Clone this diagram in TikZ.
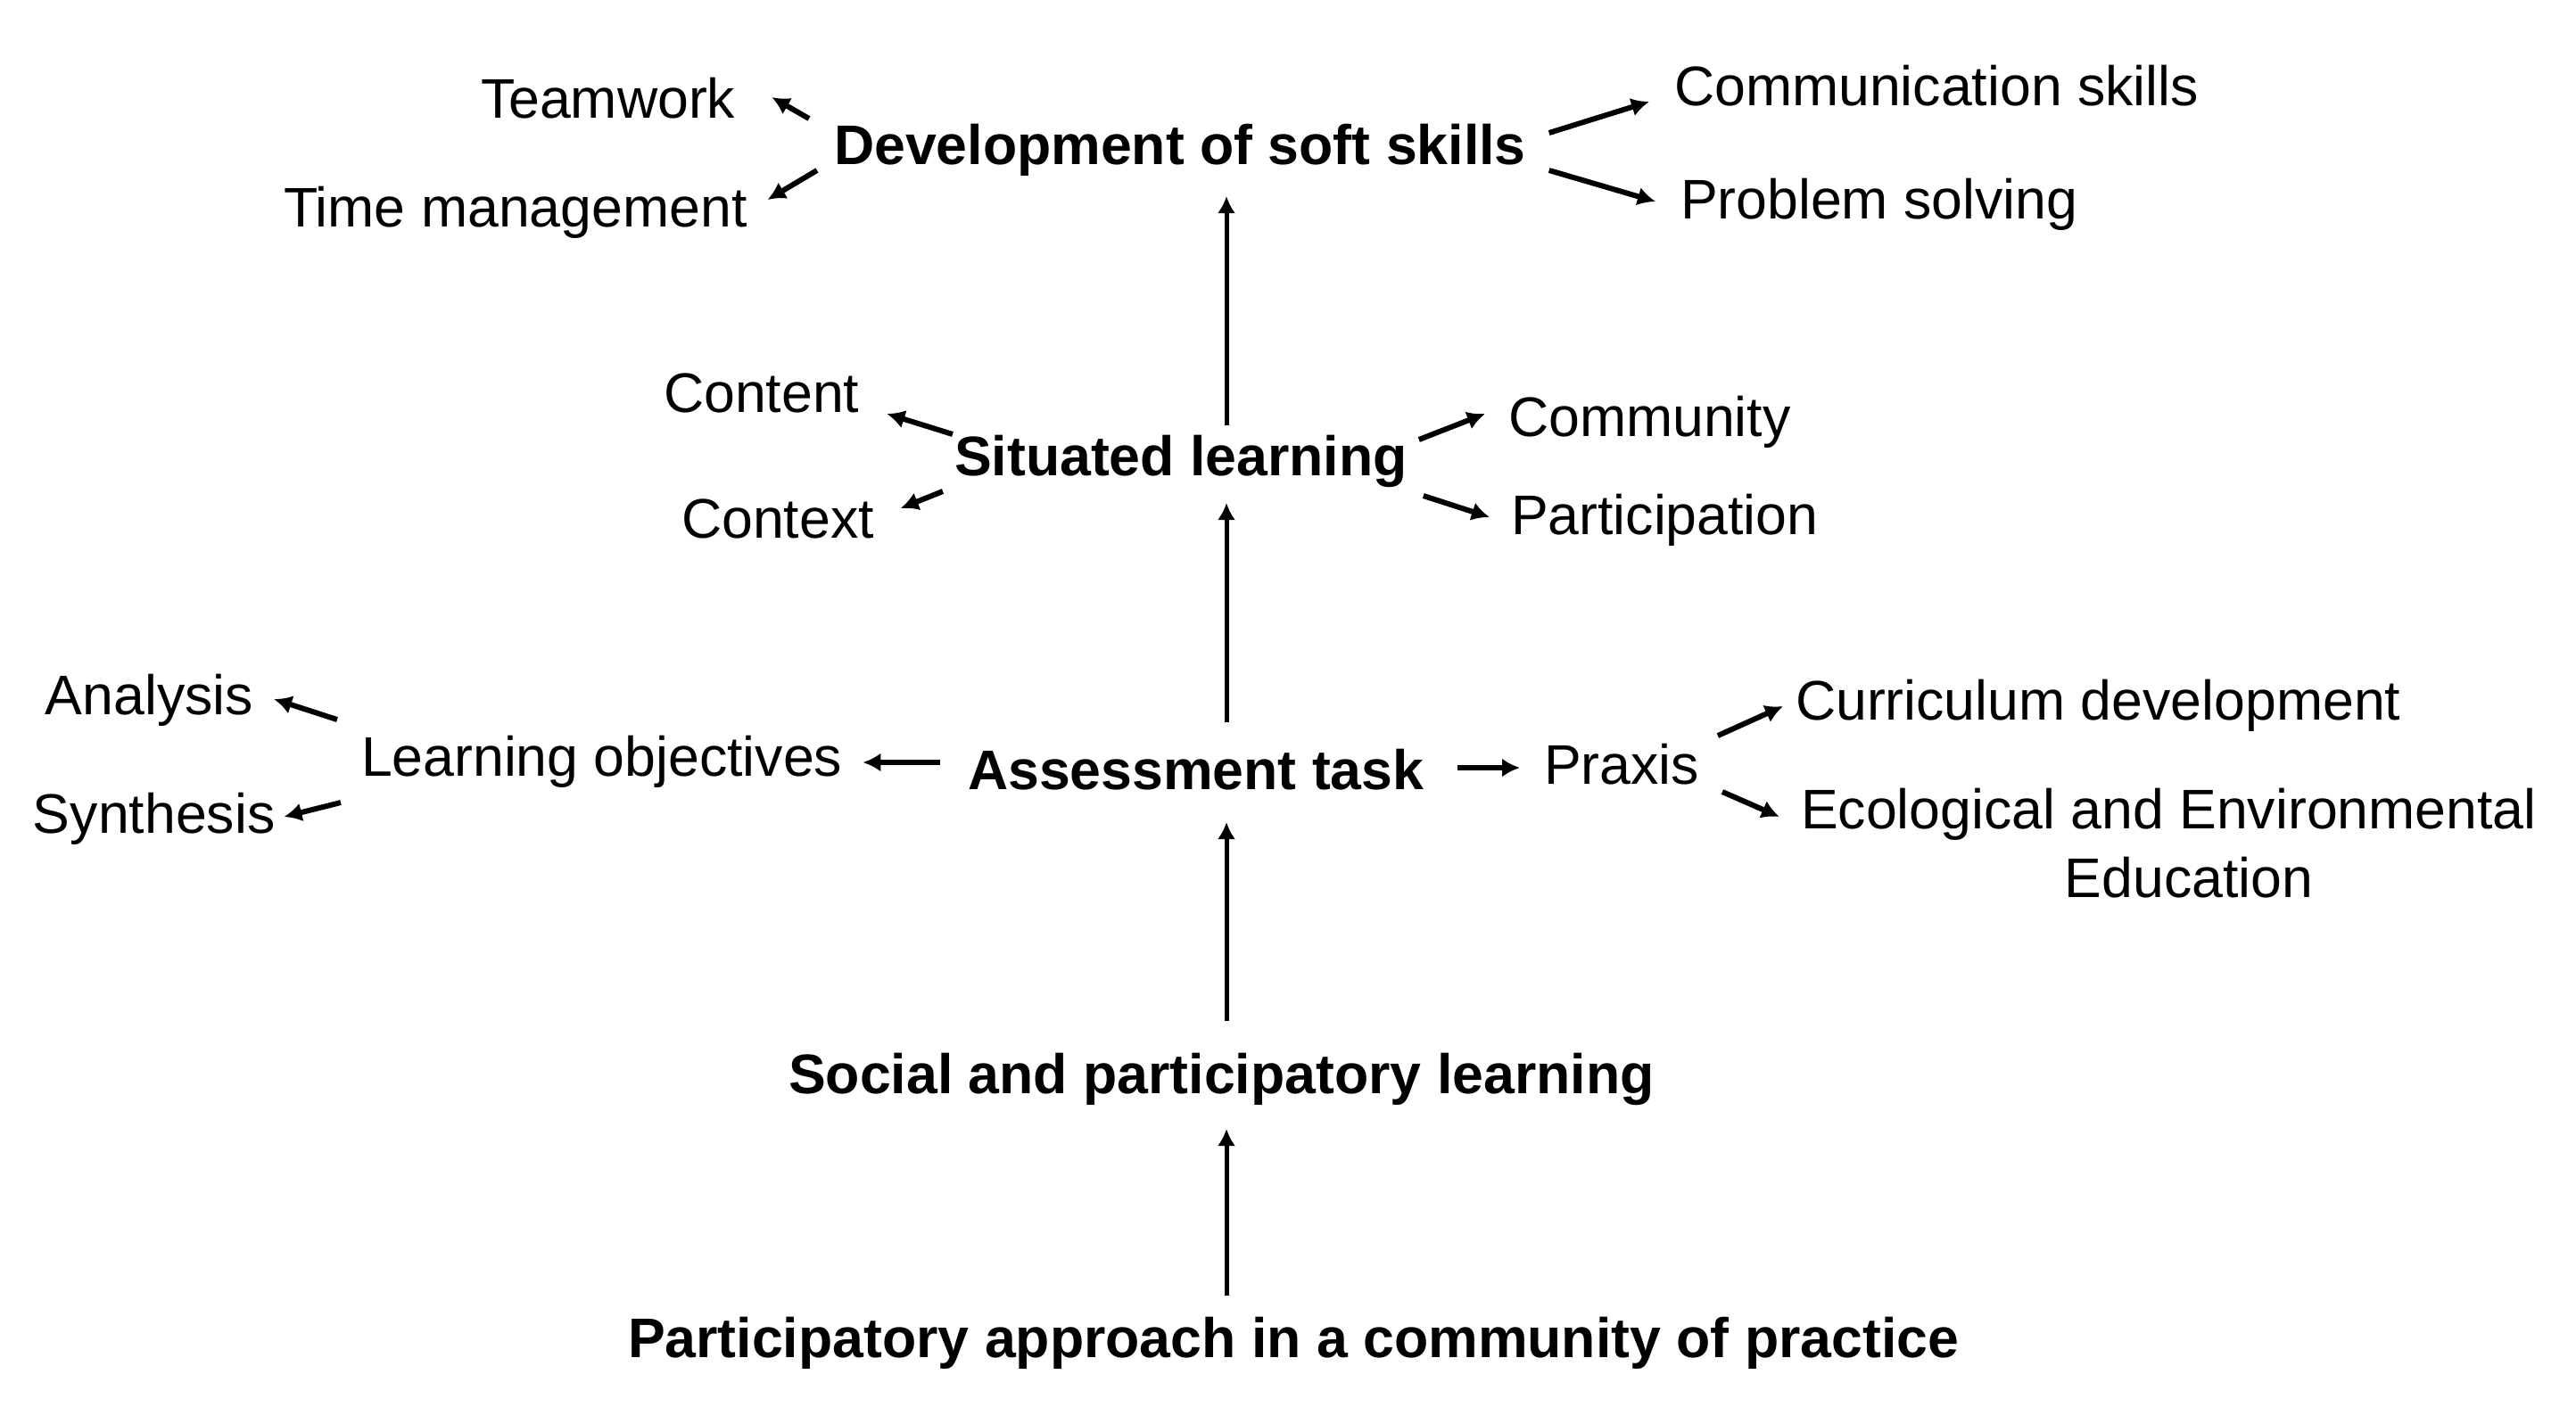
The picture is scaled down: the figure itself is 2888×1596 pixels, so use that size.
\documentclass[tikz,border=0pt]{standalone}
\usepackage{fontspec}
\setmainfont{Liberation Sans}
\usetikzlibrary{arrows.meta}
\tikzset{
  txt/.style={inner sep=0pt, outer sep=0pt, font=\fontsize{17.8}{21.8}\selectfont},
  bld/.style={inner sep=0pt, outer sep=0pt, font=\fontsize{17.8}{21.8}\selectfont\bfseries},
  arr/.style={-{Latex[length=0.2cm,width=0.21cm]}, line width=0.06cm},
  varr/.style={-{Latex[length=0.19cm,width=0.2cm]}, line width=0.05cm}
}
\begin{document}
\begin{tikzpicture}[x=0.01cm, y=-0.01cm]
\useasboundingbox (0,0) rectangle (2888,1596);
% nodes
\node[bld, anchor=base west] (dev) at (935,184) {Development of soft skills};
\node[txt, anchor=base west] (team) at (539,132) {Teamwork};
\node[txt, anchor=base west] (time) at (318,254) {Time management};
\node[txt, anchor=base west] (comm) at (1877,118) {Communication skills};
\node[txt, anchor=base west] (prob) at (1884,245) {Problem solving};
\node[bld, anchor=base west] (sit) at (1070,533) {Situated learning};
\node[txt, anchor=base west] (cont) at (744,462) {Content};
\node[txt, anchor=base west] (ctx) at (764,603) {Context};
\node[txt, anchor=base west] (comy) at (1691,489) {Community};
\node[txt, anchor=base west] (part) at (1694,599) {Participation};
\node[bld, anchor=base west] (ass) at (1085,885) {Assessment task};
\node[txt, anchor=base west] (lo) at (405,870) {Learning objectives};
\node[txt, anchor=base west] (ana) at (51,801) {Analysis};
\node[txt, anchor=base west] (syn) at (37,934) {Synthesis};
\node[txt, anchor=base west] (prx) at (1731,879) {Praxis};
\node[txt, anchor=base west] (cur) at (2013,807) {Curriculum development};
\node[txt, anchor=north west, align=center] (eco) at (2019,884) {Ecological and Environmental\\\hspace*{0.45cm}Education};
\node[bld, anchor=base west] (soc) at (884,1226) {Social and participatory learning};
\node[bld, anchor=base west] (pap) at (704,1522) {Participatory approach in a community of practice};
% vertical arrows
\draw[varr] ([shift={(305,-56)}]sit.base west) -- ([shift={(440,36)}]dev.base west);
\draw[varr] ([shift={(290,-75)}]ass.base west) -- ([shift={(305,31)}]sit.base west);
\draw[varr] ([shift={(491,-81)}]soc.base west) -- ([shift={(290,37)}]ass.base west);
\draw[varr] ([shift={(671,-69)}]pap.base west) -- ([shift={(491,40)}]soc.base west);
% soft skills
\draw[arr] ([shift={(-28,-51)}]dev.base west) -- ([shift={(41,-23)}]team.base east);
\draw[arr] ([shift={(-19,7)}]dev.base west) -- ([shift={(23,-30)}]time.base east);
\draw[arr] ([shift={(26,-35)}]dev.base east) -- ([shift={(-28,-4)}]comm.base west);
\draw[arr] ([shift={(26,7)}]dev.base east) -- ([shift={(-28,-19)}]prob.base west);
% situated
\draw[arr] ([shift={(-2,-46)}]sit.base west) -- ([shift={(31,2)}]cont.base east);
\draw[arr] ([shift={(-13,18)}]sit.base west) -- ([shift={(30,-33)}]ctx.base east);
\draw[arr] ([shift={(13,-40)}]sit.base east) -- ([shift={(-26,-25)}]comy.base west);
\draw[arr] ([shift={(18,23)}]sit.base east) -- ([shift={(-24,-19)}]part.base west);
% assessment
\draw[arr] ([shift={(-31,-30)}]ass.base west) -- ([shift={(23,-15)}]lo.base east);
\draw[arr] ([shift={(37,-24)}]ass.base east) -- ([shift={(-27,-18)}]prx.base west);
\draw[arr] ([shift={(-27,-63)}]lo.base west) -- ([shift={(23,-17)}]ana.base east);
\draw[arr] ([shift={(-23,30)}]lo.base west) -- ([shift={(10,-18)}]syn.base east);
\draw[arr] ([shift={(21,-54)}]prx.base east) -- ([shift={(-14,-15)}]cur.base west);
\draw[arr] ([shift={(26,9)}]prx.base east) -- ([shift={(-24,32)}]eco.north west);
\end{tikzpicture}
\end{document}
